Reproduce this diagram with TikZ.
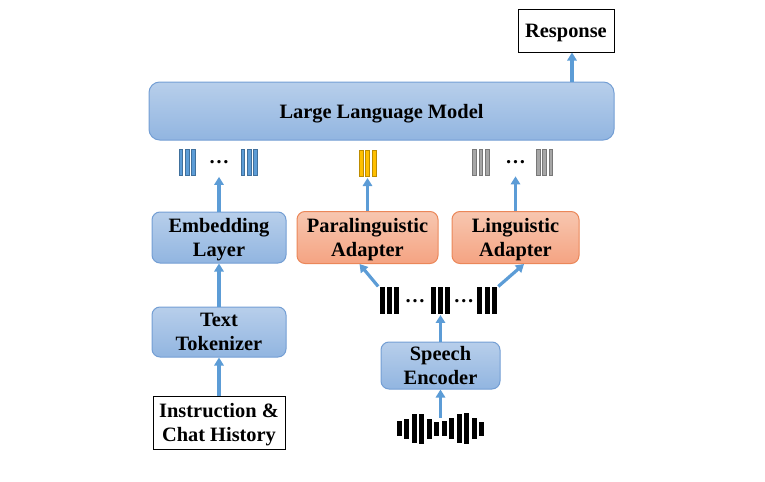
\documentclass[tikz,border=0pt]{standalone}
\usepackage{fontspec}
\setmainfont{Liberation Serif}
\definecolor{bltop}{rgb}{0.72,0.81,0.92}
\definecolor{blbot}{rgb}{0.57,0.71,0.88}
\definecolor{bldraw}{rgb}{0.45,0.62,0.83}
\definecolor{ortop}{rgb}{0.97,0.78,0.69}
\definecolor{orbot}{rgb}{0.96,0.64,0.51}
\definecolor{ordraw}{rgb}{0.92,0.53,0.35}
\definecolor{arrc}{rgb}{0.36,0.61,0.84}
\definecolor{tkblue}{rgb}{0.36,0.61,0.84}
\definecolor{tkbluel}{rgb}{0.25,0.44,0.61}
\definecolor{tkyel}{rgb}{1,0.75,0}
\definecolor{tkyell}{rgb}{0.74,0.55,0}
\definecolor{tkgray}{rgb}{0.65,0.65,0.65}
\definecolor{tkgrayl}{rgb}{0.47,0.47,0.47}
\newcommand{\lbl}{\fontsize{15.3}{18}\selectfont\bfseries}
\usepackage{tikz}
\usetikzlibrary{positioning,calc,arrows.meta}

\begin{document}
\begin{tikzpicture}[x=0.75pt, y=-0.75pt, font=\lbl] % px units
  \tikzstyle{mod}=[draw=bldraw, top color=bltop, bottom color=blbot, rounded corners=6pt, line width=0.75pt, align=center, inner sep=2pt, text depth=0pt]
  \tikzstyle{ada}=[mod, draw=ordraw, top color=ortop, bottom color=orbot]
  \tikzstyle{io}=[draw=black, fill=white, line width=0.75pt, align=center, inner sep=2pt, text depth=0pt]
  \tikzstyle{dt}=[inner sep=0pt]
  \tikzstyle{arr}=[every edge/.style={draw=arrc, line width=2.4pt, -{Triangle[width=7pt,length=6pt]}}]
  \tikzset{tk/.style n args={4}{minimum width=16.5pt, minimum height=21pt, inner sep=0pt,
      path picture={\foreach \d in {-1,0,1}
        \filldraw[fill=#1, draw=#2, line width=0.5pt] (path picture bounding box.center) ++({\d*#3-#4/2},13) rectangle ++(#4,-26);}}}

  \useasboundingbox (0,0) rectangle (765,482);

  \node[mod, minimum width=348.75pt, minimum height=43.5pt, rounded corners=8pt] (llm) at (381.5,111) {Large Language Model};
  \node[io, minimum width=72pt, minimum height=32.25pt, above left=21.75pt and 0pt of llm.north east] (resp) {Response};
  \coordinate (rx) at ([xshift=4.5pt]resp.south);

  \node[io, minimum width=99pt, minimum height=39.75pt] (instr) at (219,422.5) {Instruction \&\\Chat History};
  \node[mod, minimum width=100.5pt, minimum height=37.5pt, above=28.5pt of instr] (tok) {Text\\Tokenizer};
  \node[mod, minimum width=100.5pt, minimum height=38.25pt, above=32.25pt of tok] (emb) {Embedding\\Layer};
  \node[ada, minimum width=105.75pt, minimum height=39pt, right=7.5pt of emb] (para) {Paralinguistic\\Adapter};
  \node[ada, minimum width=95.25pt, minimum height=39pt, right=9.75pt of para] (ling) {Linguistic\\Adapter};

  \node[mod, minimum width=89.25pt, minimum height=35.25pt] (enc) at (440.5,365.5) {Speech\\Encoder};
  \node[inner sep=0pt, minimum width=69pt, minimum height=16.5pt, below=21pt of enc] (wave) {};
  \foreach \h [count=\i] in {15,20,29,30,20,14,15,21,29,31,21,14}
    \fill (wave.center) ++({(\i-6.5)*7.5-2.6},{\h/2}) rectangle ++(5.2,-\h);

  \node[tk={black}{black}{7.3}{4.0}, above=19.9pt of enc] (t2) {};
  \node[tk={black}{black}{7.3}{4.0}, left=21.4pt of t2] (t1) {};
  \node[tk={black}{black}{7.3}{4.0}, right=18pt of t2] (t3) {};
  \node[dt] (d1) at ($(t1)!.5!(t2)$) {…};
  \node[dt] (d2) at ($(t2)!.5!(t3)$) {…};

  \node[tk={tkyel}{tkyell}{6.5}{4.0}, above=24.75pt of para] (y1) {};
  \node[dt, above=35.25pt of emb] (ed) {…};
  \node[tk={tkblue}{tkbluel}{6.3}{3.7}, left=7.7pt of ed] (b1) {};
  \node[tk={tkblue}{tkbluel}{6.3}{3.7}, right=6.2pt of ed] (b2) {};
  \node[dt, above=35.25pt of ling] (ld) {…};
  \node[tk={tkgray}{tkgrayl}{6.3}{3.7}, left=9.6pt of ld] (g1) {};
  \node[tk={tkgray}{tkgrayl}{6.3}{3.7}, right=5.5pt of ld] (g2) {};

  \path[arr]
    (instr) edge (tok)
    (tok) edge (emb)
    (emb) edge (emb.north |- b1.south)
    (para) edge (y1)
    (ling) edge (ling.north |- g1.south)
    (wave) edge (enc)
    (enc) edge (t2)
    (t1.north west) edge ([xshift=-6pt]para.south)
    (t3.north east) edge ([xshift=6.4pt]ling.south)
    (llm.north -| rx) edge (rx)
  ;

\end{tikzpicture}
\end{document}
